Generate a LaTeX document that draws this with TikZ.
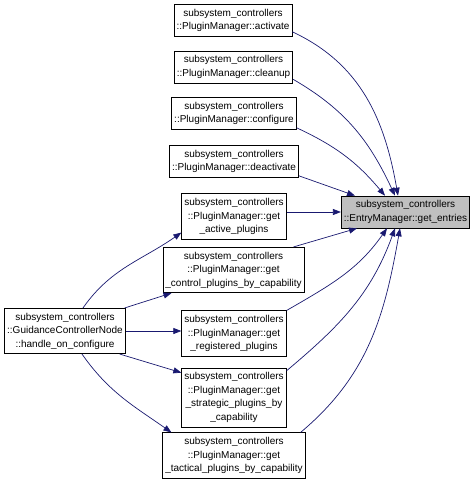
\documentclass[tikz,border=0pt]{standalone}
\usepackage{fontspec}
\setmainfont{Liberation Sans}
\usetikzlibrary{arrows.meta, positioning}

\definecolor{edgeblue}{HTML}{191970}
\definecolor{boxgray}{HTML}{BFBFBF}

\begin{document}
\begin{tikzpicture}[
    x = 1pt, y = 1pt,                       % <-- work in pixels
    every node/.style = {font=\fontsize{10}{13.5}\selectfont},
    func/.style   = {rectangle, draw, line width=0.8pt, align=center,
                     inner xsep=2.5pt, inner ysep=4.5pt},
    target/.style = {func, fill=boxgray},
    call/.style   = {-{Triangle[length=8pt,width=6pt]}, edgeblue, line width=0.7pt}
  ]
  \useasboundingbox (0,0) rectangle (474,-481);

  % callee
  \node[target] (entries) at (405.5,-212)
       {subsystem\_controllers\\::EntryManager::get\_entries};

  % middle column
  \node[func] (activate)   at (233,-20.5)  {subsystem\_controllers\\::PluginManager::activate};
  \node[func] (cleanup)    at (233.5,-67)  {subsystem\_controllers\\::PluginManager::cleanup};
  \node[func] (configure)  at (234,-113.5) {subsystem\_controllers\\::PluginManager::configure};
  \node[func] (deactivate) at (234,-161.5) {subsystem\_controllers\\::PluginManager::deactivate};
  \node[func] (active)     at (234,-216.5)
       {subsystem\_controllers\\::PluginManager::get\\\_active\_plugins};
  \node[func] (control)    at (233.5,-270)
       {subsystem\_controllers\\::PluginManager::get\\\_control\_plugins\_by\_capability};
  \node[func] (registered) at (234,-333.5)
       {subsystem\_controllers\\::PluginManager::get\\\_registered\_plugins};
  \node[func] (strategic)  at (234,-397.5)
       {subsystem\_controllers\\::PluginManager::get\\\_strategic\_plugins\_by\\\_capability};
  \node[func] (tactical)   at (234,-455.5)
       {subsystem\_controllers\\::PluginManager::get\\\_tactical\_plugins\_by\_capability};

  % caller on the left
  \node[func] (guidance)   at (65,-331)
       {subsystem\_controllers\\::GuidanceControllerNode\\::handle\_on\_configure};

  % calls into get_entries (top side)
  \draw[call] ([yshift=5pt]activate.south east) to[out=-25,in=100] ([xshift=-7.5pt]entries.north);
  \draw[call] ([yshift=4pt]cleanup.south east) to[out=-30,in=115] ([xshift=-10.5pt]entries.north);
  \draw[call] ([yshift=2pt]configure.south east) to[out=-25,in=130] ([xshift=-20.5pt]entries.north);
  \draw[call] ([yshift=2pt]deactivate.south east) -- ([xshift=-50.5pt]entries.north);
  \draw[call] ([yshift=4.5pt]active.east) -- (entries.west);

  % calls into get_entries (bottom side)
  \draw[call] ([xshift=-11pt]control.north east) -- ([xshift=-48.5pt]entries.south);
  \draw[call] (registered.north east) to[out=30,in=-125] ([xshift=-18.5pt]entries.south);
  \draw[call] ([yshift=-3pt]strategic.north east) to[out=40,in=-110] ([xshift=-10.5pt]entries.south);
  \draw[call] ([xshift=-5pt]tactical.north east) to[out=40,in=-100] ([xshift=-5.5pt]entries.south);

  % calls from handle_on_configure
  \draw[call] ([xshift=18pt]guidance.north) to[out=55,in=-145] ([yshift=7pt]active.south west);
  \draw[call] ([xshift=-1pt]guidance.north east) -- ([xshift=9pt]control.south west);
  \draw[call] (guidance.east) -- (guidance.east -| registered.west);
  \draw[call] ([xshift=-6pt]guidance.south east) -- ([yshift=-5pt]strategic.north west);
  \draw[call] ([xshift=17pt]guidance.south) to[out=-55,in=145] ([xshift=9pt]tactical.north west);

\end{tikzpicture}
\end{document}
